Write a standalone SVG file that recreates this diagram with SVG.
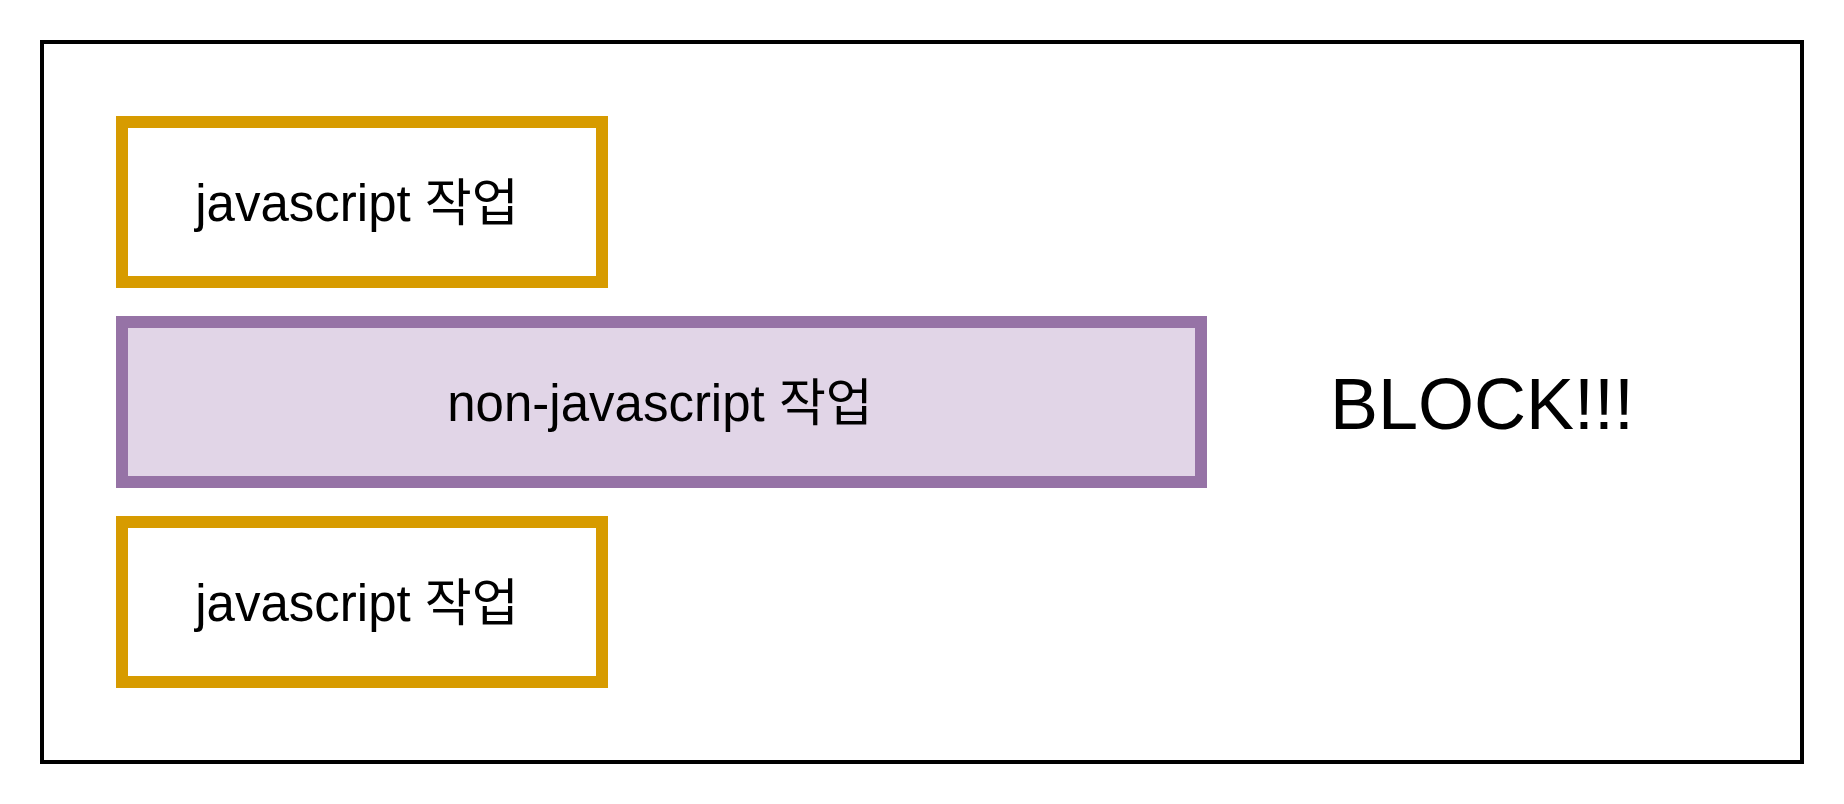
<svg xmlns="http://www.w3.org/2000/svg" width="1844" height="804" viewBox="0 0 1844 804">
<style>
.frame{fill:#ffffff;stroke:#000000;stroke-width:4}
.js{fill:#ffffff;stroke:#d79b00;stroke-width:12}
.nonjs{fill:#e1d5e7;stroke:#9673a6;stroke-width:12}
.lbl{font-family:"Liberation Sans","Noto Sans CJK KR",sans-serif;font-size:51px;fill:#000000;text-anchor:middle}
.big{font-family:"Liberation Sans","Noto Sans CJK KR",sans-serif;font-size:72px;fill:#000000;text-anchor:middle}
</style>
<rect x="0" y="0" width="1844" height="804" fill="#ffffff"/>
<g id="frame">
<rect class="frame" x="42" y="42" width="1760" height="720"/>
</g>
<g id="js1">
<rect class="js" x="122" y="122" width="480" height="160"/>
<text class="lbl" x="357" y="221">javascript 작업</text>
</g>
<g id="nonjs">
<rect class="nonjs" x="122" y="322" width="1079" height="160"/>
<text class="lbl" x="660" y="421">non-javascript 작업</text>
</g>
<g id="js2">
<rect class="js" x="122" y="522" width="480" height="160"/>
<text class="lbl" x="357" y="621">javascript 작업</text>
</g>
<g id="block">
<text class="big" x="1482" y="429">BLOCK!!!</text>
</g>
<g id="connectors"></g>
</svg>
